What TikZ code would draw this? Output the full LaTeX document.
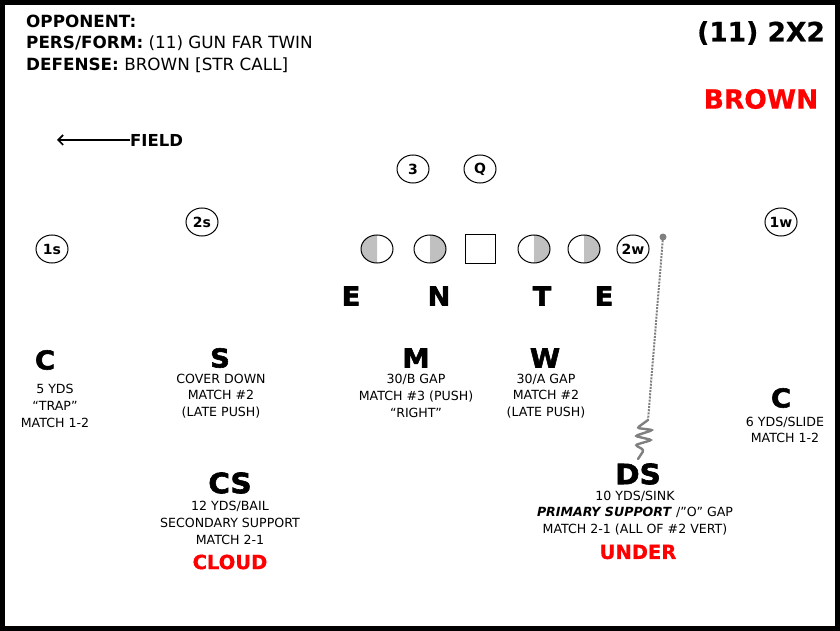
\documentclass[tikz,border=0pt]{standalone}
\usepackage{fontspec}
\setmainfont{DejaVu Sans}
\newfontface\heavy{DejaVu Sans Bold}[FakeBold=2.2,FakeStretch=1.05]
\newfontface\semiheavy{DejaVu Sans Bold}[FakeBold=0.6]
\usetikzlibrary{arrows.meta,shapes.geometric}
\definecolor{halfgrey}{RGB}{192,192,192}
\definecolor{routegrey}{RGB}{128,128,128}
\definecolor{callred}{RGB}{255,0,0}
\tikzset{
 x=1pt,y=-1pt,
 player/.style={draw=black,line width=1pt,ellipse,minimum width=32pt,minimum height=28pt,inner sep=0pt,font=\fontsize{14}{14}\selectfont\bfseries},
 body/.style={align=center,inner sep=0pt,font=\fontsize{12.6}{16.8}\selectfont},
 big/.style={inner sep=0pt,font=\fontsize{26}{26}\selectfont\heavy},
 bigger/.style={inner sep=0pt,font=\fontsize{28}{28}\selectfont\heavy},
 red call/.style={inner sep=0pt,text=callred,font=\fontsize{19.5}{19.5}\selectfont\semiheavy},
 hdr/.style={anchor=west,inner sep=0pt,font=\fontsize{16.8}{16.8}\selectfont},
}
\newcommand{\halfL}[2]{\fill[halfgrey] (#1,#2-14) arc[start angle=-90,end angle=-270,x radius=16,y radius=14] -- cycle;\draw[line width=1pt] (#1,#2) ellipse[x radius=16,y radius=14];}
\newcommand{\halfR}[2]{\fill[halfgrey] (#1,#2-14) arc[start angle=-90,end angle=90,x radius=16,y radius=14] -- cycle;\draw[line width=1pt] (#1,#2) ellipse[x radius=16,y radius=14];}
\begin{document}
\begin{tikzpicture}
\useasboundingbox (0,0) rectangle (840,631);
\draw[line width=5pt] (2.5,2.5) rectangle (837.5,628.5);
\node[hdr] (h1) at (26,21) {\bfseries OPPONENT:};
\node[hdr] (h2) at (26,43) {\textbf{PERS/FORM:} (11) GUN FAR TWIN};
\node[hdr] (h3) at (26,65) {\textbf{DEFENSE:} BROWN [STR CALL]};
\node[inner sep=0pt,font=\fontsize{26.5}{26.5}\selectfont\semiheavy] (title) at (761,33) {(11) 2X2};
\node[inner sep=0pt,text=callred,font=\fontsize{26.5}{26.5}\selectfont\semiheavy] (brown) at (761,99) {BROWN};
\node[hdr,font=\fontsize{16.5}{16.5}\selectfont\bfseries] (field) at (130,140) {FIELD};
\draw[-{Straight Barb[length=5pt,width=10pt]},line width=1.6pt] (field.west) -- ++(-73,0) coordinate (fieldend);
\node[player] (p3) at (413,169) {3};
\node[player] (q) at (480,169) {Q};
\node[player] (s2) at (202,222) {2s};
\node[player] (s1) at (52,249) {1s};
\node[player] (w2) at (633,249) {2w};
\node[player] (w1) at (781,222) {1w};
\halfL{377}{249}
\halfR{430}{249}
\node[draw=black,line width=1pt,minimum width=30pt,minimum height=29pt,inner sep=0pt] (center) at (480.5,249) {};
\halfR{534}{249}
\halfR{584}{249}
\node[big] (e1) at (351,296) {E};
\node[big] (n) at (439,296) {N};
\node[big] (t) at (542,296) {T};
\node[big] (e2) at (604,296) {E};
\node[big] (cl) at (45,360) {C};
\node[body] (cltxt) at (55,406) {5 YDS\\“TRAP”\\MATCH 1-2};
\node[big] (sl) at (220,358) {S};
\node[body] (sltxt) at (221,396) {COVER DOWN\\MATCH \#2\\(LATE PUSH)};
\node[big] (m) at (416,358) {M};
\node[body] (mtxt) at (416,396) {30/B GAP\\MATCH \#3 (PUSH)\\“RIGHT”};
\node[big] (wl) at (545,358) {W};
\node[body] (wtxt) at (546,396) {30/A GAP\\MATCH \#2\\(LATE PUSH)};
\node[big] (cr) at (781,398) {C};
\node[body] (crtxt) at (785,430) {6 YDS/SLIDE\\MATCH 1-2};
\node[bigger] (cs) at (230,483) {CS};
\node[body] (cstxt) at (230,523) {12 YDS/BAIL\\SECONDARY SUPPORT\\MATCH 2-1};
\node[red call] (cloud) at (230,562) {CLOUD};
\node[bigger] (ds) at (638,474) {DS};
\node[body] (dstxt) at (635,513) {10 YDS/SINK\\\textbf{\textit{PRIMARY SUPPORT}} /”O” GAP\\MATCH 2-1 (ALL OF \#2 VERT)};
\node[red call] (under) at (638,552) {UNDER};
\coordinate (routetop) at (663,237);
\coordinate (routemid) at (648,420);
\coordinate (routebot) at (638,459);
\fill[routegrey] (routetop) circle (3.5);
\draw[routegrey,line width=2pt,dash pattern=on 2pt off 1.2pt] (routetop) -- (routemid);
\draw[routegrey,line width=2.4pt,line cap=round,rounded corners=2.5pt] (routemid) -- (637,428) -- (653,430) -- (635,436) -- (652,440) -- (635,445) -- (644,450) -- (routebot);
\end{tikzpicture}
\end{document}
